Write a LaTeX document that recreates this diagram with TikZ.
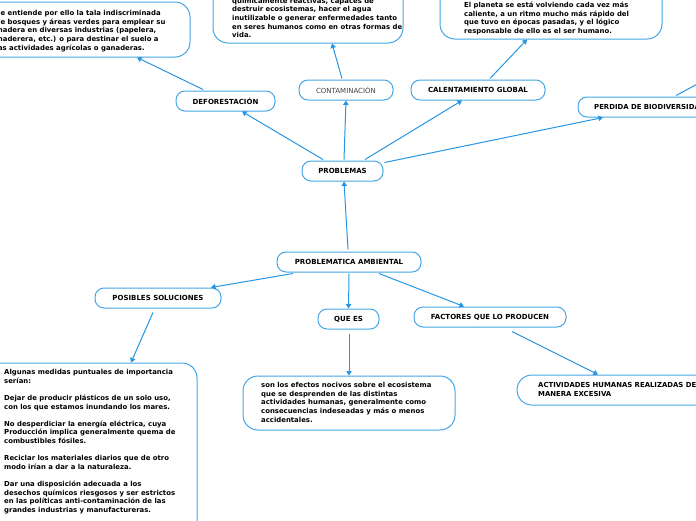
\documentclass[tikz,border=0pt]{standalone}
\usepackage{fontspec}
\setmainfont{DejaVu Sans}
\usetikzlibrary{arrows.meta,calc}
\definecolor{bl}{HTML}{45A6E6}
\definecolor{ln}{HTML}{2596E3}
\definecolor{gt}{HTML}{444444}
\newcommand\mystrut{\rule{0pt}{5.7pt}}
\begin{document}
\begin{tikzpicture}[x=1pt,y=-1pt,
 box/.style={draw=bl, line width=1pt, fill=white, rounded corners=9pt, inner sep=0pt, font=\fontsize{7}{8}\selectfont\bfseries},
 big/.style={box, rounded corners=15pt},
 txt/.style={inner sep=0pt, anchor=north west, align=left, font=\fontsize{6.9}{8.6}\selectfont\bfseries},
 link/.style={draw=ln, line width=1pt, -{Triangle[length=4.5pt,width=5.5pt]}}]
\useasboundingbox (0,0) rectangle (696,520);
\clip (0,0) rectangle (696,520);
% description boxes
\node[big, minimum width=230pt, minimum height=55pt] (defdesc) at (75,29.5) {};
\node[txt] (defdesct) at (-4.5,9.7) {\mystrut Se entiende por ello la tala indiscriminada\\de bosques y áreas verdes para emplear su\\madera en diversas industrias (papelera,\\maderera, etc.) o para destinar el suelo a\\las actividades agrícolas o ganaderas.};
\node[big, minimum width=190pt, minimum height=73pt] (contdesc) at (308,6.5) {};
\node[txt] (contdesct) at (232,-2.6) {\mystrut químicamente reactivas, capaces de\\destruir ecosistemas, hacer el agua\\inutilizable o generar enfermedades tanto\\en seres humanos como en otras formas de\\vida.};
\node[big, minimum width=222pt, minimum height=69pt] (caldesc) at (551,4.5) {};
\node[txt] (caldesct) at (464,1.7) {\mystrut El planeta se está volviendo cada vez más\\caliente, a un ritmo mucho más rápido del\\que tuvo en épocas pasadas, y el lógico\\responsable de ello es el ser humano.};
\node[big, minimum width=217pt, minimum height=197pt] (posdesc) at (88.5,461.5) {};
\node[txt] (posdesct) at (4,368.7) {\mystrut Algunas medidas puntuales de importancia\\serían:\\[8.6pt]Dejar de producir plásticos de un solo uso,\\con los que estamos inundando los mares.\\[8.6pt]No desperdiciar la energía eléctrica, cuya\\Producción implica generalmente quema de\\combustibles fósiles.\\[8.6pt]Reciclar los materiales diarios que de otro\\modo irían a dar a la naturaleza.\\[8.6pt]Dar una disposición adecuada a los\\desechos químicos riesgosos y ser estrictos\\en las políticas anti-contaminación de las\\grandes industrias y manufactureras.};
\node[big, minimum width=212pt, minimum height=54pt] (quedesc) at (349,403) {};
\node[txt] (quedesct) at (261,381.7) {\mystrut son los efectos nocivos sobre el ecosistema\\que se desprenden de las distintas\\actividades humanas, generalmente como\\consecuencias indeseadas y más o menos\\accidentales.};
\node[big, minimum width=203pt, minimum height=30pt] (act) at (618.5,390) {};
\node[txt] (actt) at (538,381.7) {\mystrut ACTIVIDADES HUMANAS REALIZADAS DE\\MANERA EXCESIVA};
% labels
\node[box, minimum width=99pt, minimum height=20pt] (defo) at (225.5,101) {DEFORESTACIÓN};
\node[box, minimum width=94pt, minimum height=20pt, font=\fontsize{7}{8}\selectfont, text=gt] (cont) at (346,90) {CONTAMINACIÓN};
\node[box, minimum width=134pt, minimum height=20pt] (cal) at (478,90) {CALENTAMIENTO GLOBAL};
\node[box, minimum width=142pt, minimum height=20pt] (perd) at (649,107) {};
\node[txt, anchor=west] (perdt) at (594,107) {PERDIDA DE BIODIVERSIDAD};
\node[box, minimum width=81pt, minimum height=20pt] (prob) at (342.5,171) {PROBLEMAS};
\node[box, minimum width=144pt, minimum height=20pt] (pa) at (349,262) {PROBLEMATICA AMBIENTAL};
\node[box, minimum width=126pt, minimum height=20pt] (pos) at (158,298) {POSIBLES SOLUCIONES};
\node[box, minimum width=61pt, minimum height=20pt] (quees) at (348.5,319) {QUE ES};
\node[box, minimum width=152pt, minimum height=20pt] (fact) at (490,317) {FACTORES QUE LO PRODUCEN};
\coordinate (perdup) at (716,74);
% connectors
\draw[link] ([shift={(-1,-2)}]pa.north) -- ([shift={(1.5,0)}]prob.south);
\draw[link] ([shift={(-19.5,-1)}]prob.north) -- ([shift={(16.5,0)}]defo.south);
\draw[link] ([shift={(1.5,-1)}]prob.north) -- (cont.south);
\draw[link] ([shift={(22.5,-1)}]prob.north) -- ([shift={(-16,0)}]cal.south);
\draw[link] ([shift={(1,2)}]prob.north east) -- ([shift={(-46,0)}]perd.south);
\draw[link] ([shift={(-22.5,-1)}]defo.north) -- ([shift={(62,0)}]defdesc.south);
\draw[link] ([shift={(-4,-1)}]cont.north) -- ([shift={(24,0)}]contdesc.south);
\draw[link] ([shift={(12,-1)}]cal.north) -- ([shift={(-24,0)}]caldesc.south);
\draw[link] ([shift={(27,-1)}]perd.north) -- (perdup);
\draw[link] ([shift={(-56,1)}]pa.south) -- ([shift={(53,0)}]pos.north);
\draw[link] ([shift={(0,1)}]pa.south) -- (quees.north);
\draw[link] ([shift={(30,1)}]pa.south) -- ([shift={(-26,0)}]fact.north);
\draw[link] ([shift={(-5,4)}]pos.south) -- ([shift={(42.5,0)}]posdesc.north);
\draw[link] ([shift={(0.5,4)}]quees.south) -- (quedesc.north);
\draw[link] ([shift={(22,4)}]fact.south) -- ([shift={(-20.5,0)}]act.north);
\end{tikzpicture}
\end{document}
